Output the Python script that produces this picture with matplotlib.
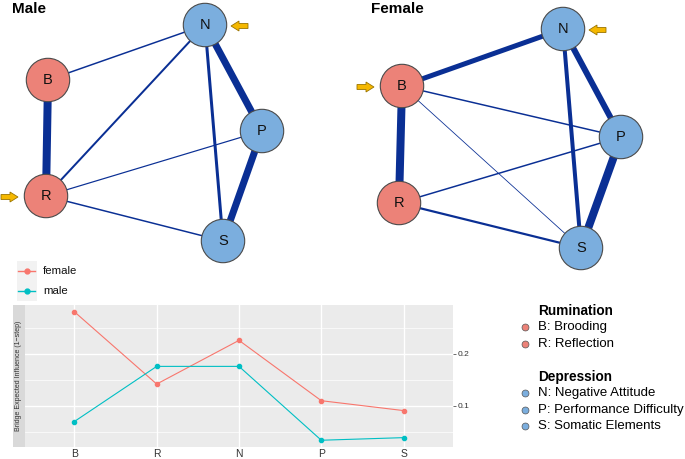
import matplotlib
matplotlib.use("Agg")
import matplotlib.pyplot as plt
from matplotlib.patches import Circle, FancyArrow, Rectangle

plt.rcParams['font.family'] = ['Liberation Sans', 'DejaVu Sans']

# ---- data ----
nodes = ["B", "R", "N", "P", "S"]
node_group = {"B": "rum", "R": "rum", "N": "dep", "P": "dep", "S": "dep"}

# network layouts (pixel positions in the figure)
male_pos = {"N": (205, 25), "B": (48, 80), "P": (262, 131), "R": (46, 196), "S": (223, 241)}
female_pos = {"N": (563, 29), "B": (402, 86), "P": (621, 137), "R": (399, 203), "S": (581, 248)}

# edge weights, drawn as line width
male_edges = [("B", "N", 1.5), ("B", "R", 8), ("R", "N", 2), ("R", "P", 1.2),
              ("R", "S", 1.5), ("N", "P", 7), ("N", "S", 3), ("P", "S", 7)]
female_edges = [("B", "N", 5), ("B", "R", 8), ("B", "P", 1.5), ("B", "S", 0.8),
                ("R", "P", 1.5), ("R", "S", 2.2), ("N", "P", 6), ("N", "S", 4), ("P", "S", 8)]

male_bridge = ["N", "R"]
female_bridge = ["N", "B"]

# bridge expected influence
female_bei = [0.281, 0.142, 0.226, 0.110, 0.091]
male_bei = [0.070, 0.176, 0.176, 0.034, 0.039]

legend_rum = ["B: Brooding", "R: Reflection"]
legend_dep = ["N: Negative Attitude", "P: Performance Difficulty", "S: Somatic Elements"]

RED = "#EC8278"
BLUE = "#7BAEDE"
EDGE = "#0A2F94"
ARROW = "#F5B800"

fig = plt.figure(figsize=(6.85, 4.59), dpi=100)
W, H = 685, 459
ax = fig.add_axes([0, 0, 1, 1])
ax.set_xlim(0, W)
ax.set_ylim(H, 0)
ax.axis("off")

R_NODE = 21.7


def draw_net(pos, edges, bridge, title, tx):
    for a, b, w in edges:
        (x1, y1), (x2, y2) = pos[a], pos[b]
        ax.plot([x1, x2], [y1, y2], color=EDGE, lw=w * 0.72, zorder=1,
                solid_capstyle="butt")
    for n in nodes:
        c = RED if node_group[n] == "rum" else BLUE
        ax.add_patch(Circle(pos[n], R_NODE, facecolor=c, edgecolor="#4a4a4a",
                            lw=0.8, zorder=2))
        ax.text(pos[n][0], pos[n][1], n, ha="center", va="center",
                fontsize=10.5, color="#111111", zorder=3)
    for n in bridge:
        x, y = pos[n]
        if n == "N":
            ax.add_patch(FancyArrow(x + 43, y + 1, -17, 0, width=5, head_width=10,
                                    head_length=8, length_includes_head=True,
                                    facecolor=ARROW, edgecolor="#9a7400", lw=0.6, zorder=3))
        else:
            ax.add_patch(FancyArrow(x - 45, y + 1, 17, 0, width=5, head_width=10,
                                    head_length=8, length_includes_head=True,
                                    facecolor=ARROW, edgecolor="#9a7400", lw=0.6, zorder=3))
    ax.text(tx, 13, title, fontsize=11, fontweight="bold", ha="left", va="baseline")


draw_net(male_pos, male_edges, male_bridge, "Male", 12)
draw_net(female_pos, female_edges, female_bridge, "Female", 371)

# top-left legend of the line chart
ax.add_patch(Rectangle((17, 261), 20, 40, facecolor="#F2F2F2", edgecolor="none"))
for lab, col, yy in [("female", "#F8766D", 271), ("male", "#00BFC4", 291)]:
    ax.plot([18.5, 35.5], [yy, yy], color=col, lw=1.0)
    ax.plot([27], [yy], "o", color=col, ms=3.5)
    ax.text(43, yy, lab, fontsize=8.2, va="center", ha="left", color="#111111")

# right legend
ax.text(538, 311, "Rumination", fontsize=9.8, fontweight="bold", va="center")
for i, lab in enumerate(legend_rum):
    yy = 327 + i * 17
    ax.plot([525], [yy], "o", ms=5, mfc=RED, mec="#555555", mew=0.5)
    ax.text(538, yy, lab, fontsize=9.5, va="center")
ax.text(538, 377, "Depression", fontsize=9.8, fontweight="bold", va="center")
for i, lab in enumerate(legend_dep):
    yy = 393 + i * 16.5
    ax.plot([525], [yy], "o", ms=5, mfc=BLUE, mec="#555555", mew=0.5)
    ax.text(538, yy, lab, fontsize=9.5, va="center")

# ---- line chart ----
left, right, top, bottom = 25, 453, 305, 447
lax = fig.add_axes([left / W, 1 - bottom / H, (right - left) / W, (bottom - top) / H])
lax.set_facecolor("#EBEBEB")
xs = list(range(len(nodes)))
lax.plot(xs, female_bei, "-o", color="#F8766D", lw=0.8, ms=3)
lax.plot(xs, male_bei, "-o", color="#00BFC4", lw=0.8, ms=3)
lax.set_xlim(-0.6, 4.6)
lax.set_ylim(0.021, 0.294)
lax.set_xticks(xs)
lax.set_xticklabels(nodes, fontsize=7.5, color="#222222")
lax.set_yticks([0.1, 0.2])
lax.set_yticks([0.05, 0.15, 0.25], minor=True)
lax.yaxis.tick_right()
lax.tick_params(axis="y", which="major", labelsize=6, colors="#333333", length=2.5, width=0.5, pad=1)
lax.tick_params(axis="y", which="minor", length=0)
lax.tick_params(axis="x", length=0, colors="#333333", pad=1.5)
lax.set_yticklabels(["0.1", "0.2"])
lax.grid(True, which="major", color="white", lw=1.0)
lax.grid(True, which="minor", axis="y", color="white", lw=0.5)
lax.set_axisbelow(True)
for s in lax.spines.values():
    s.set_visible(False)

# left strip holding the axis label
sax = fig.add_axes([13 / W, 1 - bottom / H, 12 / W, (bottom - top) / H])
sax.set_facecolor("#D9D9D9")
sax.set_xticks([])
sax.set_yticks([])
for s in sax.spines.values():
    s.set_visible(False)
sax.text(0.5, 0.5, "Bridge Expected Influence (1\u2212step)", rotation=90,
         ha="center", va="center", fontsize=5, color="#333333", transform=sax.transAxes)

fig.savefig("out.png", dpi=100)
